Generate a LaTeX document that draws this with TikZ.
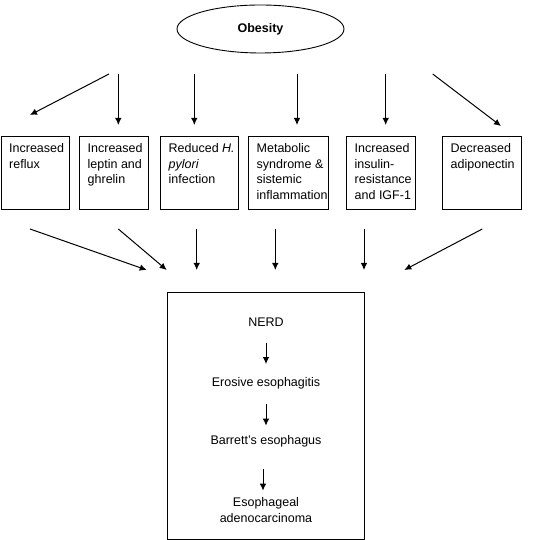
\documentclass[tikz,border=0pt]{standalone}
\usepackage{fontspec}
\setmainfont{Liberation Sans}
\usetikzlibrary{shapes.geometric,arrows.meta,positioning}

\tikzset{
  arr/.style={-{Latex[length=7pt,width=6.5pt]}, line width=1pt},
  factor/.style={draw, line width=0.9pt, rectangle, anchor=north west, minimum height=73pt, inner sep=0pt},
  factortext/.style={align=left, inner sep=0pt, font=\fontsize{12.5}{15.6}\selectfont},
  stage/.style={anchor=north, align=center, inner sep=0pt, font=\fontsize{12.5}{15.6}\selectfont}
}

\begin{document}
\begin{tikzpicture}[x=1pt,y=1pt]
\useasboundingbox (0,0) rectangle (550,540);
% obesity
\node[draw, ellipse, line width=0.9pt, minimum width=167pt, minimum height=48pt, font=\bfseries\fontsize{12.5}{15}\selectfont] (obesity) at (260.5,511) {Obesity};

% factor boxes
\node[factor, minimum width=68.5pt] (reflux) at (0.5,404) {};
\node[factor, minimum width=69pt] (leptin) at (79,404) {};
\node[factor, minimum width=78pt] (pylori) at (160,404) {};
\node[factor, minimum width=80pt] (metabolic) at (248,404) {};
\node[factor, minimum width=69pt] (insulin) at (346,404) {};
\node[factor, minimum width=79pt] (adipo) at (442,404) {};

\node[factortext, below right=7.5pt and 8.5pt of reflux.north west] (refluxtext) {Increased\\reflux};
\node[factortext, below right=7.5pt and 8.5pt of leptin.north west] (leptintext) {Increased\\leptin and\\ghrelin};
\node[factortext, below right=7.5pt and 8.5pt of pylori.north west] (pyloritext) {Reduced \textit{H.}\\\textit{pylori}\\infection};
\node[factortext, below right=7.5pt and 8.5pt of metabolic.north west] (metabolictext) {Metabolic\\syndrome \&\\sistemic\\inflammation};
\node[factortext, below right=7.5pt and 8.5pt of insulin.north west] (insulintext) {Increased\\insulin-\\resistance\\and IGF-1};
\node[factortext, below right=7.5pt and 8.5pt of adipo.north west] (adipotext) {Decreased\\adiponectin};

% arrows from obesity
\foreach \sx/\ex/\ey [count=\i] in {109/30/425, 118.3/118.3/415, 194.3/194.3/415, 297/297/415, 385.7/385.7/415, 432.7/501/414}
{
  \coordinate (top\i) at (\sx,466);
  \coordinate (end\i) at (\ex,\ey);
  \draw[arr] (top\i) -- (end\i);
}

% arrows to the esophagus box
\foreach \sx/\ex [count=\i] in {30/146.7, 118.3/166.7, 196.7/196.7, 275.3/275.3, 364/364, 482.3/404.3}
{
  \coordinate (low\i) at (\sx,311);
  \coordinate (tip\i) at (\ex,270);
  \draw[arr] (low\i) -- (tip\i);
}

% esophagus box
\node[draw, line width=0.9pt, minimum width=197pt, minimum height=247pt, inner sep=0pt] (gerd) at (265.5,124.5) {};
\node[stage] (nerd) at (266,221.8) {NERD};
\node[stage] (erosive) at (266,162.9) {Erosive esophagitis};
\node[stage] (barrett) at (266,104.3) {Barrett's esophagus};
\node[stage] (adeno) at (266,42.8) {Esophageal\\adenocarcinoma};

\draw[arr, shorten <=15.5pt, shorten >=13pt] (nerd) -- (erosive);
\draw[arr, shorten <=15pt, shorten >=10pt] (erosive) -- (barrett);
\draw[arr, shorten <=21pt, shorten >=6.5pt] ([xshift=-3pt]barrett.south) -- ([xshift=-3pt]adeno.north);
\end{tikzpicture}
\end{document}
